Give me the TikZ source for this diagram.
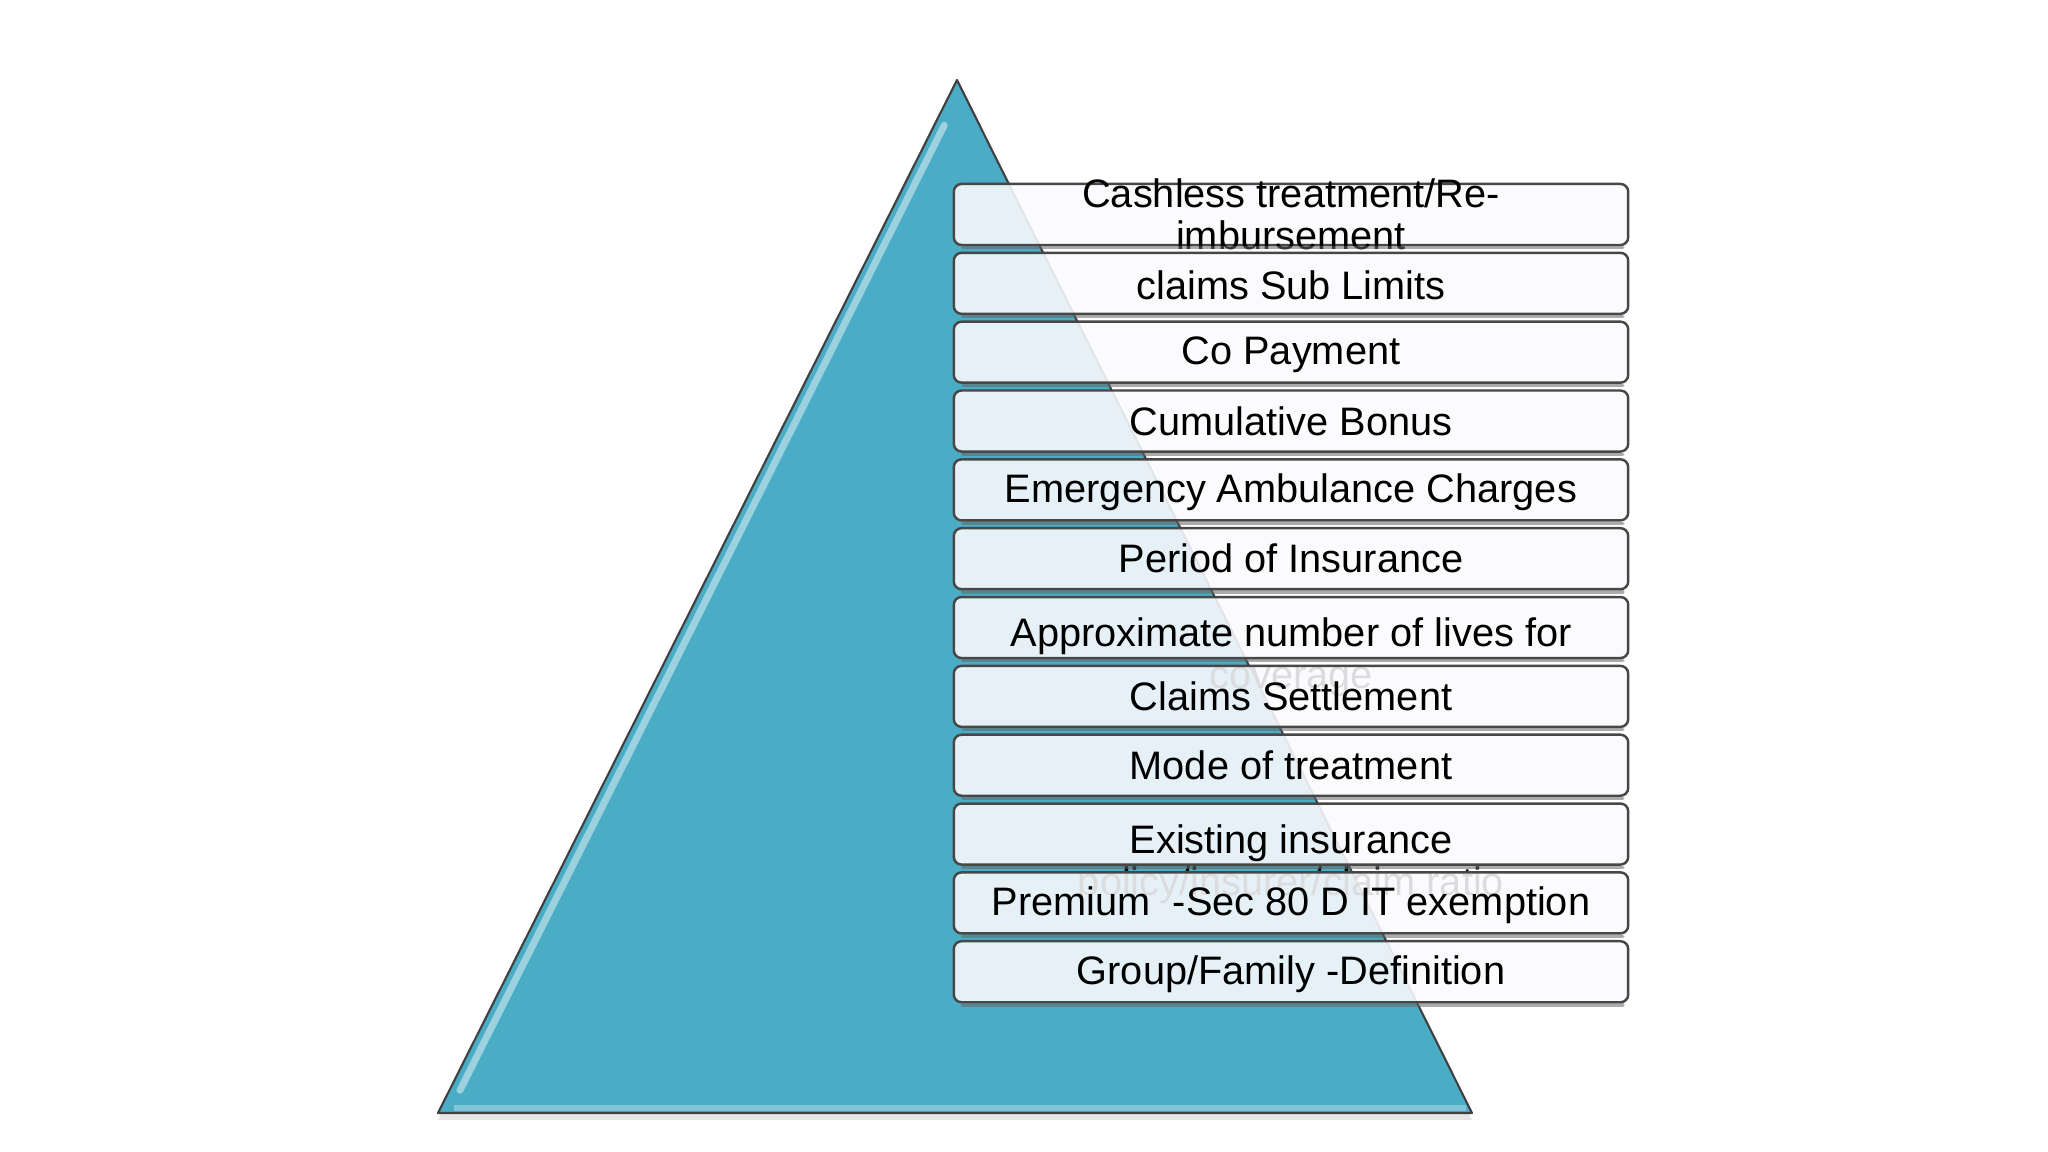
\documentclass[tikz,border=0pt]{standalone}
\usepackage{fontspec}
\setmainfont{Liberation Sans}
\usetikzlibrary{positioning,calc,shadows}

\definecolor{pyramidblue}{RGB}{75,172,198}
\definecolor{boxwhite}{RGB}{251,251,253}

\begin{document}
\begin{tikzpicture}[x=0.01cm,y=-0.01cm,
	itembox/.style={draw=black!72,line width=0.7pt,rounded corners=2.2pt,fill=boxwhite,fill opacity=0.88,
		minimum width=6.74cm,minimum height=0.61cm,inner sep=0pt,outer sep=0pt},
	itemshadow/.style={black!60,line width=0.9pt,opacity=0.55,line cap=round},
	itemtext/.style={font=\fontsize{11.3}{11.9}\selectfont,align=center,inner sep=0pt},
	node distance=0.078cm]
	\useasboundingbox (0,0) rectangle (2048,1152);
	\coordinate (apex) at (957,80);
	\coordinate (baseL) at (438,1113);
	\coordinate (baseR) at (1472,1113);
	\draw[fill=pyramidblue,draw=black!75,line width=0.6pt,line join=round,
		drop shadow={shadow xshift=0pt,shadow yshift=-2pt,opacity=0.2}] (apex) -- (baseR) -- (baseL) -- cycle;
	\draw[white,opacity=0.45,line width=2pt,line cap=round] ($(apex)!0.04!(baseL)+(8,4)$) -- ($(apex)!0.975!(baseL)+(9,3)$);
	\draw[white,opacity=0.3,line width=1.5pt] ($(baseL)+(16,-5)$) -- ($(baseR)+(-6,-5)$);

	\node[itembox] (cashless) at (1291,214.5) {};
	\node[itemtext] (cashlessText) at (cashless) {Cashless treatment/Re-\\imbursement};
	\node[itembox,below=of cashless] (sublimits) {};
	\node[itemtext] (sublimitsText) at ([yshift=-0.5pt]sublimits.center) {claims Sub Limits};
	\node[itembox,below=of sublimits] (copay) {};
	\node[itemtext] (copayText) at ([yshift=-0.8pt]copay.center) {Co Payment};
	\node[itembox,below=of copay] (bonus) {};
	\node[itemtext] (bonusText) at (bonus) {Cumulative Bonus};
	\node[itembox,below=of bonus] (ambulance) {};
	\node[itemtext] (ambulanceText) at ([yshift=-0.8pt]ambulance.center) {Emergency Ambulance Charges};
	\node[itembox,below=of ambulance] (period) {};
	\node[itemtext] (periodText) at (period) {Period of Insurance};
	\node[itembox,below=of period] (lives) {};
	\node[itemtext] (livesText) at ([yshift=-0.3cm]lives.center) {Approximate number of lives for\\coverage};
	\node[itembox,below=of lives] (settlement) {};
	\node[itemtext] (settlementText) at (settlement) {Claims Settlement};
	\node[itembox,below=of settlement] (mode) {};
	\node[itemtext] (modeText) at (mode) {Mode of treatment};
	\node[itembox,below=of mode] (existing) {};
	\node[itemtext] (existingText) at ([yshift=-0.3cm]existing.center) {Existing insurance\\policy/insurer/claim ratio};
	\node[itembox,below=of existing] (premium) {};
	\node[itemtext] (premiumText) at ([yshift=-0.6pt]premium.center) {Premium~ -Sec 80 D IT exemption};
	\node[itembox,below=of premium] (family) {};
	\node[itemtext] (familyText) at ([yshift=-0.6pt]family.center) {Group/Family -Definition};
	\foreach \b in {cashless,sublimits,copay,bonus,ambulance,period,lives,settlement,mode,existing,premium,family}
		\draw[itemshadow] ([xshift=2.5pt,yshift=-0.8pt]\b.south west) -- ([xshift=-1.5pt,yshift=-0.8pt]\b.south east);
\end{tikzpicture}
\end{document}
